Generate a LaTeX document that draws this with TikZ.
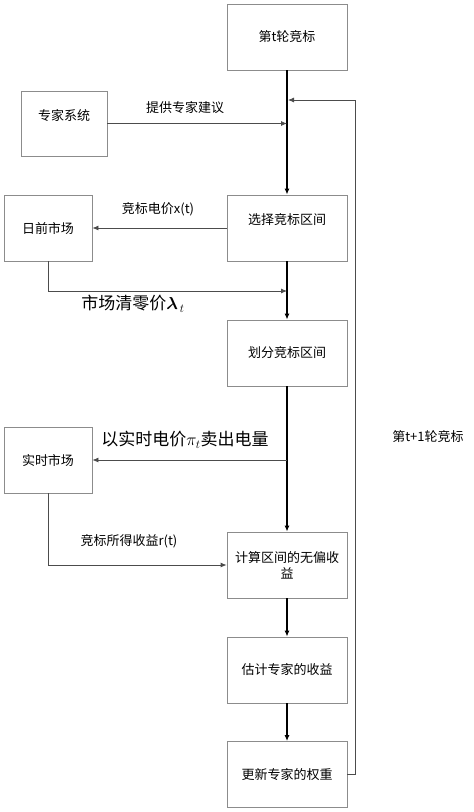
\documentclass[tikz,border=0pt]{standalone}
\usepackage{fontspec}
\usepackage{bm}
\setmainfont{Noto Sans CJK SC}
\usetikzlibrary{arrows.meta}
\tikzset{
  box/.style={draw=black!45, line width=0.8pt, minimum width=120pt, minimum height=66pt,
    inner sep=0pt, align=center, font=\fontsize{13}{16}\selectfont},
  sidebox/.style={box, minimum width=88pt},
  flow/.style={-{Latex[length=6pt,width=5pt]}, line width=1.3pt, black},
  feed/.style={-{Latex[length=6pt,width=5pt]}, line width=0.8pt, black!70},
  lbl/.style={font=\fontsize{13}{16}\selectfont, inner sep=0pt},
  biglbl/.style={font=\fontsize{17}{20}\selectfont, inner sep=0pt}
}
\begin{document}
\begin{tikzpicture}[x=1pt,y=-1pt]
  \useasboundingbox (0,0) rectangle (474,812);
  % main column
  \node[box] (round) at (287,37) {第t轮竞标};
  \node[box, label={[lbl,yshift=8pt]center:选择竞标区间}] (select) at (287,228) {};
  \node[box] (divide) at (287,353) {划分竞标区间};
  \node[box] (compute) at (287,565) {计算区间的无偏收\\益};
  \node[box] (estimate) at (287,670) {估计专家的收益};
  \node[box] (update) at (287,774.5) {更新专家的权重};
  % side boxes
  \node[sidebox, minimum width=86pt, minimum height=65pt,
    label={[lbl,yshift=8pt]center:专家系统}] (expert) at (64,123.5) {};
  \node[sidebox] (dayahead) at (48,228) {日前市场};
  \node[sidebox] (realtime) at (48,460) {实时市场};
  % helper points
  \coordinate (back) at (288,100);
  \coordinate (loop) at (355,100);
  \coordinate (clear) at (287,291);
  % main flow
  \begin{scope}[flow]
    \draw (round) -- (select);
    \draw (select) -- (divide);
    \draw (divide) -- (compute);
    \draw (compute) -- (estimate);
    \draw (estimate) -- (update);
  \end{scope}
  % feedback loop
  \draw[feed] (update.east) -| (loop) -- (back);
  \node[lbl] (nextround) at (428,437) {第t+1轮竞标};
  % side arrows
  \draw[feed] (expert.east) -- (expert.east -| round.south);
  \node[lbl] (advice) at (185,108) {提供专家建议};
  \draw[feed] (select.west) -- (dayahead.east);
  \node[lbl] (bidprice) at (158,209) {竞标电价x(t)};
  \draw[feed] (dayahead.south) |- (clear);
  \node[biglbl] (clearprice) at (133,304) {市场清零价$\bm{\lambda}_{\,t}$};
  \draw[feed] (divide.south |- realtime.east) -- (realtime.east);
  \node[biglbl] (sellrt) at (185,440) {以实时电价$\pi_t$卖出电量};
  \draw[feed] (realtime.south) |- (compute.west);
  \node[lbl] (reward) at (129,541) {竞标所得收益r(t)};
\end{tikzpicture}
\end{document}
